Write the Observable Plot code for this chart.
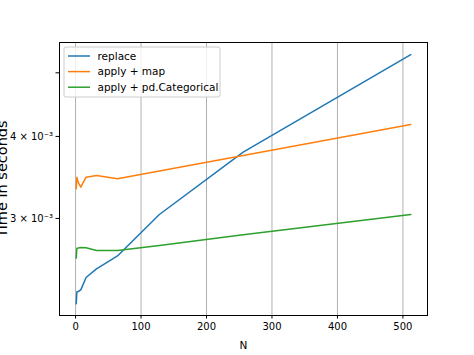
<!DOCTYPE html>
<html>
<head>
<meta charset="utf-8">
<script src="https://cdn.jsdelivr.net/npm/d3@7"></script>
<script src="https://cdn.jsdelivr.net/npm/@observablehq/plot@0.6"></script>
<style>
  html, body { margin: 0; padding: 0; background: #fff; }
  #chart svg { font-family: "DejaVu Sans", sans-serif; }
</style>
</head>
<body>
<div id="chart"></div>
<script>
const N = [1, 2, 4, 8, 16, 32, 64, 128, 256, 512];
const replace = [2.224e-3, 2.318e-3, 2.322e-3, 2.335e-3, 2.439e-3, 2.514e-3, 2.630e-3, 3.042e-3, 3.786e-3, 5.33e-3];
const applyMap = [3.329e-3, 3.467e-3, 3.404e-3, 3.348e-3, 3.467e-3, 3.488e-3, 3.448e-3, 3.543e-3, 3.741e-3, 4.171e-3];
const applyCat = [2.610e-3, 2.703e-3, 2.705e-3, 2.710e-3, 2.707e-3, 2.682e-3, 2.682e-3, 2.729e-3, 2.834e-3, 3.042e-3];
const seriesNames = ["replace", "apply + map", "apply + pd.Categorical"];
const seriesColors = ["#1f77b4", "#ff7f0e", "#2ca02c"];
const xTicks = [0, 100, 200, 300, 400, 500];
const yTicks = [3e-3, 4e-3, 5e-3];
const yTickLabels = {"0.003": "3 × 10⁻³", "0.004": "4 × 10⁻³", "0.005": ""};

const allSeries = [replace, applyMap, applyCat];
const data = [];
allSeries.forEach((vals, si) => vals.forEach((v, i) => data.push({n: N[i], t: v, s: seriesNames[si]})));

const plot = Plot.plot({
  width: 474,
  height: 355,
  marginLeft: 59,
  marginRight: 47,
  marginTop: 42,
  marginBottom: 40,
  style: {fontFamily: "DejaVu Sans, sans-serif", fontSize: "10px", color: "#000", background: "#fff"},
  x: {domain: [-24.55, 537.55], ticks: xTicks},
  y: {type: "log", domain: [2.1345e-3, 5.561e-3], ticks: yTicks},
  color: {domain: seriesNames, range: seriesColors},
  marks: [
    Plot.gridX(xTicks, {stroke: "#b0b0b0", strokeOpacity: 1, strokeWidth: 1}),
    Plot.line(data, {x: "n", y: "t", z: "s", stroke: "s", strokeWidth: 1.5}),
    Plot.frame({stroke: "#000", strokeWidth: 1}),
    Plot.axisX(xTicks, {tickSize: 3.5, tickPadding: 3.5, label: null, fontSize: 10}),
    Plot.axisY(yTicks, {tickSize: 3.5, tickPadding: 3, label: null, fontSize: 10,
      tickFormat: d => yTickLabels[String(+d.toFixed(3))] ?? ""}),
    Plot.text(["N"], {frameAnchor: "bottom", dy: 33, fontSize: 10.5}),
    Plot.text(["Time in seconds"], {frameAnchor: "left", dx: -53, rotate: -90, textAnchor: "middle", lineAnchor: "bottom", fontSize: 14.5})
  ]
});
document.getElementById("chart").appendChild(plot);

// legend
const svg = d3.select(plot);
const lg = svg.append("g");
lg.append("rect").attr("x", 64).attr("y", 47).attr("width", 156).attr("height", 50)
  .attr("rx", 2).attr("fill", "#fff").attr("fill-opacity", 0.8).attr("stroke", "#cccccc");
seriesNames.forEach((name, i) => {
  const cy = 56 + i * 15.6;
  lg.append("line").attr("x1", 68).attr("x2", 90).attr("y1", cy).attr("y2", cy)
    .attr("stroke", seriesColors[i]).attr("stroke-width", 1.5);
  lg.append("text").attr("x", 97.5).attr("y", cy).attr("dy", "0.35em")
    .attr("text-anchor", "start")
    .attr("font-size", 10.5).attr("fill", "#000").text(name);
});
</script>
</body>
</html>
